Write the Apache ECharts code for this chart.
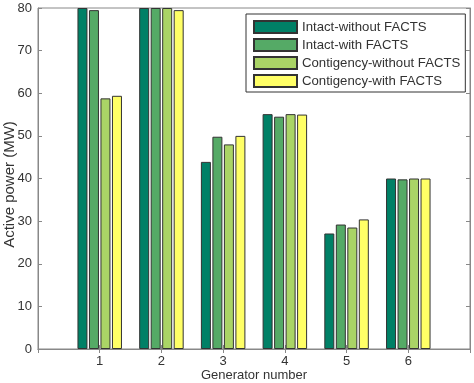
<!DOCTYPE html>
<html>
<head>
<meta charset="utf-8">
<script src="https://cdn.jsdelivr.net/npm/echarts@6/dist/echarts.min.js"></script>
<style>html,body{margin:0;padding:0;background:#fff}#c{width:474px;height:383px}</style>
</head>
<body>
<div id="c"></div>
<script>
const categories = ['', '1', '2', '3', '4', '5', '6', ''];
const seriesNames = ['Intact-without FACTS', 'Intact-with FACTS', 'Contigency-without FACTS', 'Contigency-with FACTS'];
const intactWithout = [null, 80, 80, 43.9, 55.1, 27.1, 40.0, null];
const intactWith = [null, 79.5, 80, 49.8, 54.5, 29.2, 39.8, null];
const contWithout = [null, 58.8, 80, 48.0, 55.1, 28.5, 40.0, null];
const contWith = [null, 59.4, 79.5, 50.0, 55.0, 30.4, 40.0, null];
const colors = ['#008066', '#55aa66', '#aad466', '#ffff66'];
const yTicks = [0, 10, 20, 30, 40, 50, 60, 70, 80];

const allData = [intactWithout, intactWith, contWithout, contWith];
const font = 'Liberation Sans, Arial, sans-serif';
const chart = echarts.init(document.getElementById('c'));
chart.setOption({
  animation: false,
  backgroundColor: '#fff',
  grid: { left: 38, right: 4, top: 8, bottom: 34, show: true, borderColor: '#888', borderWidth: 1, backgroundColor: 'transparent', outerBoundsMode: 'none', containLabel: false },
  legend: {
    orient: 'vertical', left: 246, top: 14,
    padding: [6, 5, 4, 7], itemGap: 4, itemWidth: 43, itemHeight: 12,
    backgroundColor: '#fff', borderColor: '#333', borderWidth: 1,
    textStyle: { fontFamily: font, fontSize: 13.2, color: '#333' },
    icon: 'rect',
    data: seriesNames
  },
  xAxis: [{
    type: 'category', data: categories, boundaryGap: false,
    name: 'Generator number', nameLocation: 'middle', nameGap: 20, nameMoveOverlap: false,
    nameTextStyle: { fontFamily: font, fontSize: 13, color: '#333' },
    axisLine: { lineStyle: { color: '#888' } },
    axisTick: { inside: true, length: 4, lineStyle: { color: '#888' } },
    axisLabel: { fontFamily: font, fontSize: 13, color: '#333', margin: 6 },
    splitLine: { show: false }
  }, {
    type: 'category', data: categories, boundaryGap: false, position: 'top',
    axisLine: { lineStyle: { color: '#888' } },
    axisTick: { inside: true, length: 4, lineStyle: { color: '#888' } },
    axisLabel: { show: false }, splitLine: { show: false }
  }],
  yAxis: [{
    type: 'value', min: yTicks[0], max: yTicks[yTicks.length - 1], interval: 10,
    name: 'Active power (MW)', nameLocation: 'middle', nameGap: 21, nameRotate: 90, nameMoveOverlap: false,
    nameTextStyle: { fontFamily: font, fontSize: 15, color: '#333', padding: [0, 12, 0, 0] },
    axisLine: { show: true, lineStyle: { color: '#888' } },
    axisTick: { show: true, inside: true, length: 4, lineStyle: { color: '#888' } },
    axisLabel: { fontFamily: font, fontSize: 13, color: '#333', margin: 6 },
    splitLine: { show: false }
  }, {
    type: 'value', min: yTicks[0], max: yTicks[yTicks.length - 1], interval: 10, position: 'right',
    axisLine: { show: true, lineStyle: { color: '#888' } },
    axisTick: { show: true, inside: true, length: 4, lineStyle: { color: '#888' } },
    axisLabel: { show: false }, splitLine: { show: false }
  }],
  series: seriesNames.map((n, i) => ({
    name: n, type: 'bar', data: allData[i],
    barWidth: 10, barGap: '15%',
    itemStyle: { color: colors[i], borderColor: '#333', borderWidth: 1 }
  }))
});
</script>
</body>
</html>
